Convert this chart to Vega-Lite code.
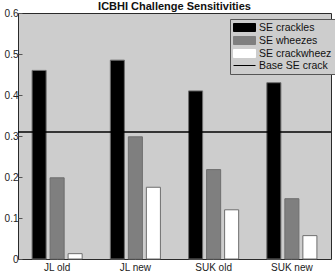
{
  "$schema": "https://vega.github.io/schema/vega-lite/v6.json",
  "width": 313,
  "height": 246,
  "autosize": "none",
  "padding": {"left": 18, "top": 13, "right": 4, "bottom": 17},
  "background": "white",
  "config": {
    "font": "Liberation Sans",
    "view": {"stroke": "#2a2a2a", "strokeWidth": 1, "fill": "#cdcdcd"},
    "axis": {"labelFont": "Liberation Sans", "labelColor": "#222", "labelFontSize": 10, "domain": false, "grid": false}
  },
  "title": {"text": "ICBHI Challenge Sensitivities", "fontSize": 11, "fontWeight": "bold", "font": "Liberation Sans", "color": "#111", "offset": -4, "anchor": "middle"},
  "datasets": {
    "bars": [
      {"group": "JL old", "series": "SE crackles", "value": 0.46},
      {"group": "JL old", "series": "SE wheezes", "value": 0.198},
      {"group": "JL old", "series": "SE crackwheez", "value": 0.013},
      {"group": "JL new", "series": "SE crackles", "value": 0.485},
      {"group": "JL new", "series": "SE wheezes", "value": 0.298},
      {"group": "JL new", "series": "SE crackwheez", "value": 0.175},
      {"group": "SUK old", "series": "SE crackles", "value": 0.41},
      {"group": "SUK old", "series": "SE wheezes", "value": 0.218},
      {"group": "SUK old", "series": "SE crackwheez", "value": 0.12},
      {"group": "SUK new", "series": "SE crackles", "value": 0.43},
      {"group": "SUK new", "series": "SE wheezes", "value": 0.147},
      {"group": "SUK new", "series": "SE crackwheez", "value": 0.057}
    ],
    "base": [{"base": 0.31, "series": "Base SE crack"}]
  },
  "layer": [
    {
      "data": {"name": "bars"},
      "mark": {"type": "bar", "stroke": "#6e6e6e", "strokeWidth": 1},
      "encoding": {
        "x": {"field": "group", "type": "nominal", "sort": ["JL old", "JL new", "SUK old", "SUK new"],
              "scale": {"paddingInner": 0.36, "paddingOuter": 0.18},
              "axis": {"title": null, "labelAngle": 0, "ticks": true, "tickSize": -4, "tickColor": "#555", "labelPadding": 7}},
        "xOffset": {"field": "series", "type": "nominal", "sort": ["SE crackles", "SE wheezes", "SE crackwheez"],
                    "scale": {"domain": ["SE crackles", "SE wheezes", "SE crackwheez"], "paddingInner": 0.22, "paddingOuter": 0}},
        "y": {"field": "value", "type": "quantitative",
              "scale": {"domain": [0, 0.6], "nice": false},
              "axis": {"title": null, "values": [0, 0.1, 0.2, 0.3, 0.4, 0.5, 0.6], "tickSize": -4, "tickColor": "#555", "labelPadding": 4,
                       "labelExpr": "datum.value === 0 ? '0' : format(datum.value, '.1f')"}},
        "color": {"field": "series", "type": "nominal",
                  "scale": {"domain": ["SE crackles", "SE wheezes", "SE crackwheez", "Base SE crack"], "range": ["#000000", "#7f7f7f", "#ffffff", "#000000"]},
                  "legend": {
                    "orient": "none", "legendX": 212, "legendY": 6, "title": null,
                    "labelFont": "Liberation Sans", "labelFontSize": 10.5, "labelColor": "#111",
                    "symbolSize": 100, "symbolOffset": 6, "labelOffset": 9,
                    "rowPadding": 0, "padding": 3,
                    "strokeColor": "#555", "fillColor": "#cdcdcd",
                    "encode": {"symbols": {"update": {
                      "shape": {"signal": "datum.value === 'Base SE crack' ? 'M-2.2,0H2.2' : 'M-2.2,-0.8H2.2V0.8H-2.2Z'"},
                      "stroke": {"signal": "datum.value === 'Base SE crack' ? '#000000' : '#6e6e6e'"},
                      "strokeWidth": {"value": 1}
                    }}}
                  }}
      }
    },
    {
      "data": {"name": "base"},
      "mark": {"type": "rule", "strokeWidth": 1.5},
      "encoding": {
        "y": {"field": "base", "type": "quantitative"},
        "color": {"field": "series", "type": "nominal",
                  "legend": {
                    "orient": "none", "legendX": 212, "legendY": 6, "title": null,
                    "labelFont": "Liberation Sans", "labelFontSize": 10.5, "labelColor": "#111",
                    "symbolSize": 100, "symbolOffset": 6, "labelOffset": 9,
                    "rowPadding": 0, "padding": 3,
                    "strokeColor": "#555", "fillColor": "#cdcdcd",
                    "encode": {"symbols": {"update": {
                      "shape": {"signal": "datum.value === 'Base SE crack' ? 'M-2.2,0H2.2' : 'M-2.2,-0.8H2.2V0.8H-2.2Z'"},
                      "stroke": {"signal": "datum.value === 'Base SE crack' ? '#000000' : '#6e6e6e'"},
                      "strokeWidth": {"value": 1}
                    }}}
                  }}
      }
    }
  ]
}
